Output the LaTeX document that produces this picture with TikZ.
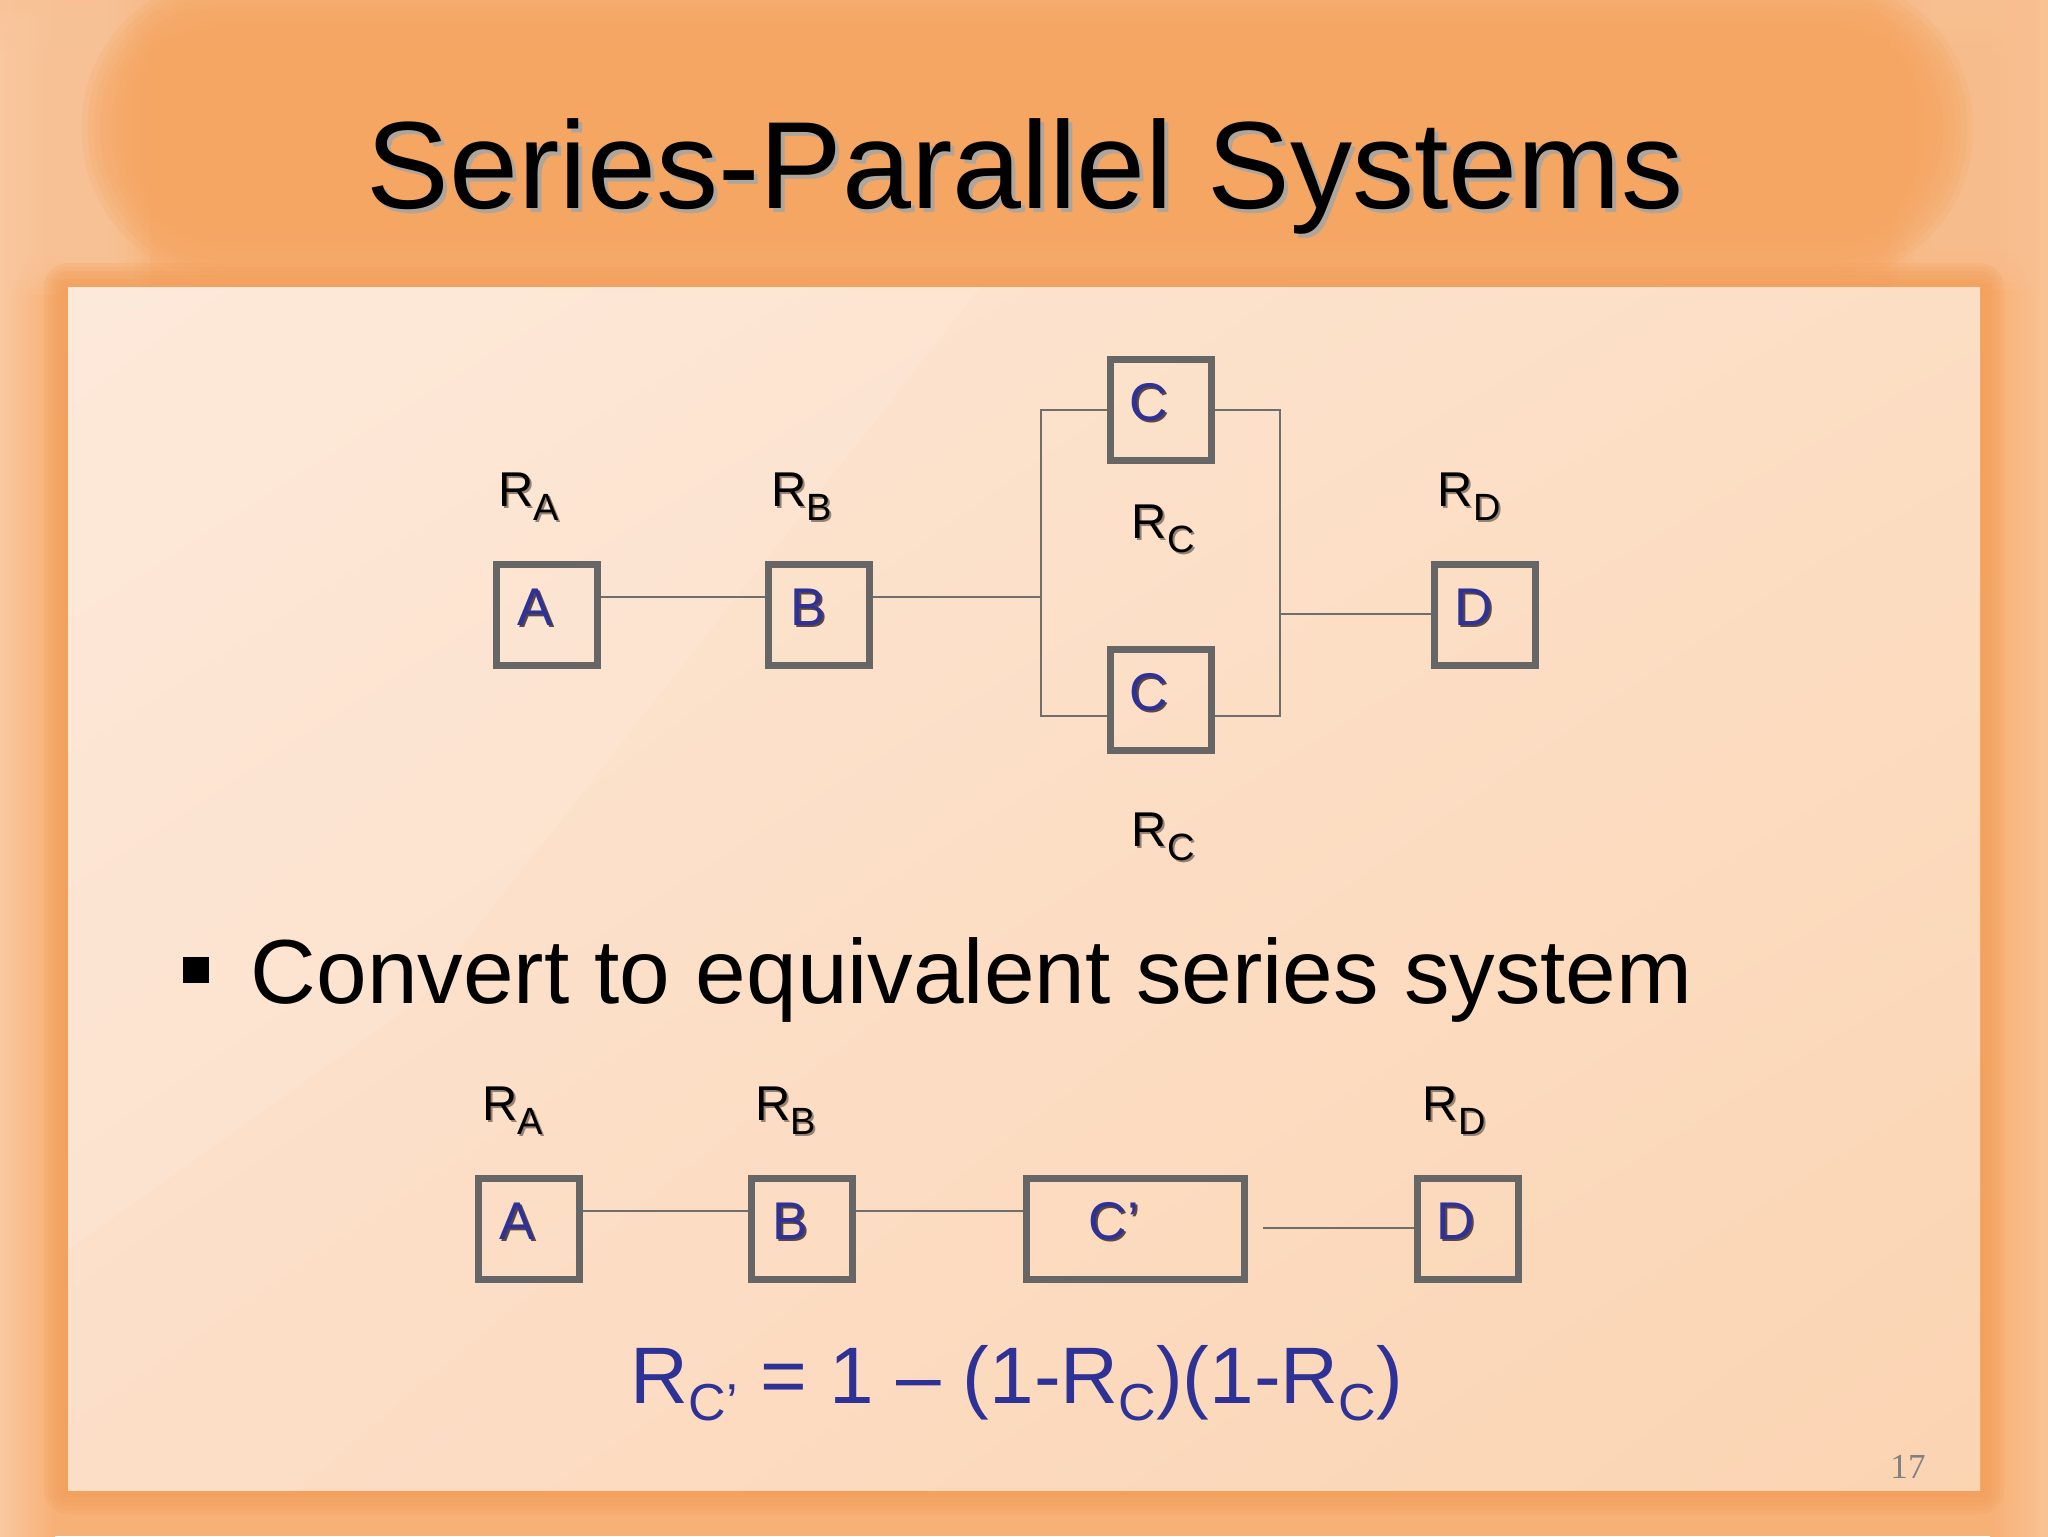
\documentclass[tikz,border=0pt]{standalone}
\usepackage{fontspec}
\setmainfont{Liberation Sans}
\newfontfamily\numfont{Liberation Serif}
\usetikzlibrary{calc,shadings}

\definecolor{bgorange}{RGB}{247,176,118}
\definecolor{bglight}{RGB}{249,200,160}
\definecolor{bglight2}{RGB}{249,194,148}
\definecolor{pillc}{RGB}{245,166,98}
\definecolor{glowc}{RGB}{243,158,88}
\definecolor{paneltl}{RGB}{253,231,214}
\definecolor{paneltr}{RGB}{252,222,196}
\definecolor{panelbl}{RGB}{252,222,199}
\definecolor{panelbr}{RGB}{251,212,178}
\definecolor{boxgray}{RGB}{102,102,102}
\definecolor{wiregray}{RGB}{110,110,110}
\definecolor{myblue}{RGB}{46,49,150}
\definecolor{titleshadow}{RGB}{175,165,155}
\definecolor{labshadow}{RGB}{150,130,115}
\definecolor{bshadow}{RGB}{90,70,70}
\definecolor{numgray}{RGB}{128,128,128}

\newcommand{\shtxt}[3]{\leavevmode\rlap{\kern#1\raisebox{-#1}{\textcolor{#2}{#3}}}#3}
\newcommand{\Rl}[1]{R\raisebox{-1.4mm}{\fontsize{10.8pt}{12pt}\selectfont #1}}
\newcommand{\fsub}[1]{\raisebox{-1.7mm}{\fontsize{14.8pt}{16pt}\selectfont #1}}

\tikzset{
  blk/.style={draw=boxgray, line width=0.7mm, minimum width=10.1mm, minimum height=10.1mm, inner sep=0pt},
  wire/.style={draw=wiregray, line width=0.2mm},
  lab/.style={anchor=base west, inner sep=0pt, text=black, font=\fontsize{13.9pt}{16pt}\selectfont},
  bl/.style={anchor=base, inner sep=0pt, text=myblue, font=\fontsize{15.1pt}{17pt}\selectfont},
}

\begin{document}
\begin{tikzpicture}[x=0.1mm,y=-0.1mm]
\useasboundingbox (0,0) rectangle (2048,1536);

% ---------- background ----------
\fill[bgorange] (0,0) rectangle (2048,1536);
\shade[left color=bglight, right color=bgorange] (0,0) rectangle (55,1536);
\shade[left color=bgorange, right color=bglight2] (1990,0) rectangle (2048,1536);
% light top corners
\foreach \d in {40,32,...,0} {
  \fill[bglight, opacity=0.22] (-60,-60) rectangle (110+\d,255+\d);
  \fill[bglight2, opacity=0.22] (1930-\d,-60) rectangle (2110,250+\d);
  \fill[bglight2, opacity=0.15] (-60,-60) rectangle (2110,10+\d);
}
% title pill with soft edges
\foreach \d in {48,42,...,0} {
  \fill[pillc, opacity=0.2, rounded corners={(100+\d)*0.1mm}]
    (130-\d,25-\d) rectangle (1925+\d,232+\d);
}
% glow around panel
\foreach \d in {24,20,...,0} {
  \fill[glowc, opacity=0.2, rounded corners={\d*0.1mm}]
    (68-\d,287-\d) rectangle (1980+\d,1490+\d);
}
% panel
\shade[upper left=paneltl, upper right=paneltr, lower left=panelbl, lower right=panelbr]
  (68,287) rectangle (1980,1490);
\fill[white, opacity=0.10] (68,287) -- (980,287) -- (420,1000) -- (68,1250) -- cycle;

% ---------- title ----------
\node[anchor=base, inner sep=0pt, font=\fontsize{35.3pt}{40pt}\selectfont] (title)
  at (1025,208) {\shtxt{0.4mm}{titleshadow}{Series-Parallel Systems}};

% ---------- upper diagram ----------
\node[blk] (A)  at (546.5,615) {};
\node[blk] (B)  at (819,615) {};
\node[blk] (C1) at (1160.5,410) {};
\node[blk] (C2) at (1160.5,700) {};
\node[blk] (D)  at (1485,615) {};

\node[bl] (tA)  at (535,625)  {\shtxt{0.2mm}{bshadow}{A}};
\node[bl] (tB)  at (808,625)  {\shtxt{0.2mm}{bshadow}{B}};
\node[bl] (tC1) at (1149,420) {\shtxt{0.2mm}{bshadow}{C}};
\node[bl] (tC2) at (1149,710) {\shtxt{0.2mm}{bshadow}{C}};
\node[bl] (tD)  at (1474,625) {\shtxt{0.2mm}{bshadow}{D}};

\node[lab] (lA)  at (498,506)  {\shtxt{0.2mm}{labshadow}{\Rl{A}}};
\node[lab] (lB)  at (771,506)  {\shtxt{0.2mm}{labshadow}{\Rl{B}}};
\node[lab] (lC1) at (1131,538) {\shtxt{0.2mm}{labshadow}{\Rl{C}}};
\node[lab] (lC2) at (1131,846) {\shtxt{0.2mm}{labshadow}{\Rl{C}}};
\node[lab] (lD)  at (1437,506) {\shtxt{0.2mm}{labshadow}{\Rl{D}}};

\coordinate (jL) at (1041,597);
\coordinate (jR) at (1280,614);
\draw[wire] (A.east |- jL) -- (B.west |- jL);
\draw[wire] (B.east |- jL) -- (jL);
\draw[wire] (C1.west) -| (jL);
\draw[wire] (jL) |- ([yshift=-1.6mm]C2.west);
\draw[wire] (C1.east) -| (jR);
\draw[wire] (jR) |- ([yshift=-1.6mm]C2.east);
\draw[wire] (jR) -- (D.west |- jR);

% ---------- bullet ----------
\node[fill=black, minimum size=2.6mm, inner sep=0pt] (blt) at (195.5,970) {};
\node[anchor=base west, inner sep=0pt, font=\fontsize{25.9pt}{30pt}\selectfont] (btxt)
  at (250,1003) {Convert to equivalent series system};

% ---------- lower diagram ----------
\node[blk] (A2) at (529,1229) {};
\node[blk] (B2) at (802,1229) {};
\node[blk, minimum width=21.8mm] (Cp) at (1135.5,1229) {};
\node[blk] (D2) at (1467.5,1229) {};

\node[bl] (tA2) at (517,1239)  {\shtxt{0.2mm}{bshadow}{A}};
\node[bl] (tB2) at (790,1239)  {\shtxt{0.2mm}{bshadow}{B}};
\node[bl, anchor=base west] (tCp) at (1088,1239) {\shtxt{0.2mm}{bshadow}{C’}};
\node[bl] (tD2) at (1456,1239) {\shtxt{0.2mm}{bshadow}{D}};

\node[lab] (lA2) at (482,1120)  {\shtxt{0.2mm}{labshadow}{\Rl{A}}};
\node[lab] (lB2) at (755,1120)  {\shtxt{0.2mm}{labshadow}{\Rl{B}}};
\node[lab] (lD2) at (1422,1120) {\shtxt{0.2mm}{labshadow}{\Rl{D}}};

\coordinate (j2) at (0,1211);
\draw[wire] (A2.east |- j2) -- (B2.west |- j2);
\draw[wire] (B2.east |- j2) -- (Cp.west |- j2);
\coordinate (fr) at (1263,1228);
\draw[wire] (fr) -- (D2.west |- fr);

% ---------- formula ----------
\node[anchor=base, inner sep=0pt, text=myblue, font=\fontsize{22.8pt}{26pt}\selectfont] (form)
  at (1017,1403) {R\fsub{C’} = 1 – (1-R\fsub{C})(1-R\fsub{C})};

% ---------- page number ----------
\node[anchor=base, inner sep=0pt, text=numgray, font=\numfont\fontsize{10pt}{12pt}\selectfont] (pg)
  at (1908,1478) {17};
\end{tikzpicture}
\end{document}
